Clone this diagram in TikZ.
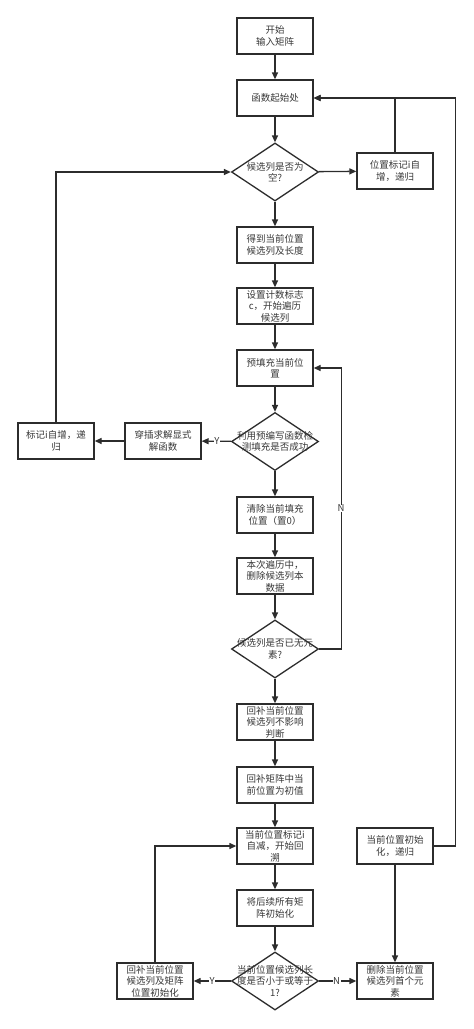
\documentclass[tikz,border=0pt]{standalone}
\usepackage{fontspec}
\setmainfont{Noto Sans CJK SC}
\usepackage{xcolor}
\usepackage{tikz}
\usetikzlibrary{shapes.geometric,arrows.meta}
\definecolor{linegray}{HTML}{2C2C2C}
\definecolor{textgray}{HTML}{383838}

\begin{document}
\begin{tikzpicture}[
  x=1pt, y=-1pt,
  every node/.style={font=\fontsize{9.5}{11.5}\selectfont, text=textgray},
  stepbox/.style={draw=linegray, line width=1.3pt, fill=white, minimum width=76pt,
    minimum height=36pt, inner sep=1pt, align=center},
  decide/.style={diamond, draw=linegray, line width=1.3pt, fill=white, inner sep=0pt,
    minimum width=87pt, minimum height=58pt},
  dtext/.style={align=center, inner sep=0pt},
  flow/.style={draw=linegray, line width=1.3pt, -{Triangle[length=7pt,width=6pt]}},
  yn/.style={fill=white, inner sep=0.5pt}]

\useasboundingbox (0,0) rectangle (474,1029);

% main column
\node[stepbox] (start) at (275,36) {开始\\输入矩阵};
\node[stepbox] (func) at (275,98) {函数起始处};
\node[decide, label={[dtext]center:候选列是否为\\空?}] (empty) at (275,172) {};
\node[stepbox] (incr) at (395,171) {位置标记i自\\增，递归};
\node[stepbox] (getcand) at (275,245) {得到当前位置\\候选列及长度};
\node[stepbox] (setc) at (275,306) {设置计数标志\\c，开始遍历\\候选列};
\node[stepbox] (prefill) at (275,368) {预填充当前位\\置};
\node[decide, label={[dtext]center:利用预编写函数检\\测填充是否成功}] (check) at (275,441.5) {};
\node[stepbox] (solve) at (163,441) {穿插求解显式\\解函数};
\node[stepbox] (markinc) at (56,441) {标记i自增，递\\归};
\node[stepbox] (clear) at (275,515) {清除当前填充\\位置（置0）};
\node[stepbox] (remove) at (275,576) {本次遍历中，\\删除候选列本\\数据};
\node[decide, label={[dtext]center:候选列是否已无元\\素?}] (noleft) at (275,649) {};
\node[stepbox] (restore) at (275,722) {回补当前位置\\候选列不影响\\判断};
\node[stepbox] (reset) at (275,785) {回补矩阵中当\\前位置为初值};
\node[stepbox] (back) at (275,846) {当前位置标记i\\自减，开始回\\溯};
\node[stepbox] (initr) at (395,846) {当前位置初始\\化，递归};
\node[stepbox] (initall) at (275,908) {将后续所有矩\\阵初始化};
\node[decide, label={[dtext]center:当前位置候选列长\\度是否小于或等于\\1?}] (len) at (275,981) {};
\node[stepbox] (restore2) at (155,981) {回补当前位置\\候选列及矩阵\\位置初始化};
\node[stepbox] (delfirst) at (395,981) {删除当前位置\\候选列首个元\\素};

% connectors
\draw[flow] (start) -- (func);
\draw[flow] (func) -- (empty);
\draw[flow] (empty) -- (incr);
\draw[flow] (incr.north) |- (func.east);
\draw[flow] (initr.east) -- ++(22,0) |- (func.east);
\draw[flow] (empty) -- (getcand);
\draw[flow] (getcand) -- (setc);
\draw[flow] (setc) -- (prefill);
\draw[flow] (prefill) -- (check);
\draw[flow] (check) -- node[yn, pos=0.48] {Y} (solve);
\draw[flow] (solve) -- (markinc);
\draw[flow] (markinc.north) |- (empty.west);
\draw[flow] (check) -- (clear);
\draw[flow] (clear) -- (remove);
\draw[flow] (remove) -- (noleft);
\draw[flow] (noleft.east) -- ++(22,0) |- node[yn, pos=0.25] {N} (prefill.east);
\draw[flow] (noleft) -- (restore);
\draw[flow] (restore) -- (reset);
\draw[flow] (reset) -- (back);
\draw[flow] (back) -- (initall);
\draw[flow] (initall) -- (len);
\draw[flow] (len) -- node[yn, pos=0.5] {Y} (restore2);
\draw[flow] (restore2.north) |- (back.west);
\draw[flow] (len) -- node[yn, pos=0.47] {N} (delfirst);
\draw[flow] (initr) -- (delfirst);
\end{tikzpicture}
\end{document}
